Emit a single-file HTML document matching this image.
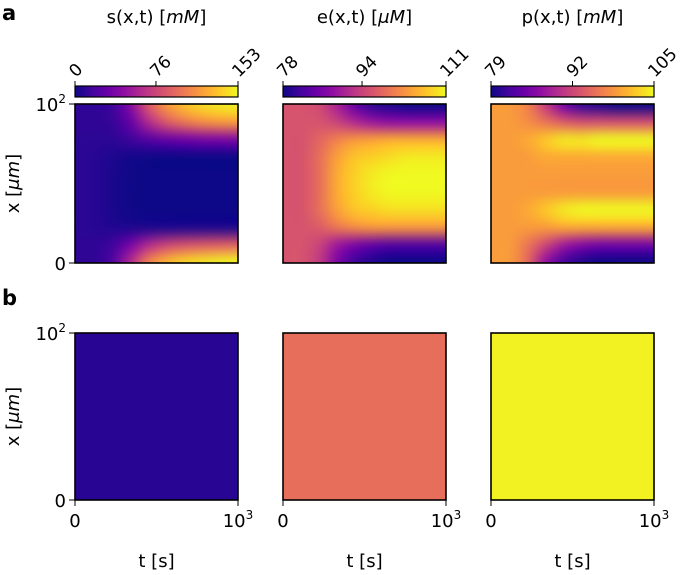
<!DOCTYPE html>
<html><head><meta charset="utf-8">
<style>
html,body{margin:0;padding:0;background:#fff;}
#wrap{position:relative;width:685px;height:575px;overflow:hidden;font-family:"DejaVu Sans","Liberation Sans",sans-serif;}
canvas{position:absolute;}
svg{position:absolute;left:0;top:0;}
</style></head>
<body>
<div id="wrap">
<svg id="svg" width="685" height="575"></svg>
</div>
<script>
// ---- data ----
const panelTitles = ["s(x,t)", "e(x,t)", "p(x,t)"];
const panelUnits = ["mM", "μM", "mM"];
const cbarMin = [0, 78, 79];
const cbarMax = [153, 111, 105];
const cbarTicks = [[0, 76, 153], [78, 94, 111], [79, 92, 105]];
const yTickLabels = ["10²", "0"];
const xTickLabels = ["0", "10³"];
// heatmaps, rows from x=top(100) to x=bottom(0), columns t=0..end
const sGrid = [
 [10,10,14,40,85,115,132,142,148,150],
 [10,10,12,28,60,85,100,110,115,118],
 [9,9,9,14,22,28,32,35,37,38],
 [9,8,5,2,1,0,0,0,0,0],
 [9,8,4,1,0,0,0,0,0,0],
 [9,8,4,1,0,0,0,0,0,0],
 [9,8,4,1,0,0,0,0,0,0],
 [9,8,6,5,5,5,5,5,5,5],
 [10,10,15,35,60,75,82,86,88,90],
 [10,10,20,60,105,128,140,146,150,153]
];
const eGrid = [
 [96,96,95,90,84,80,79,78,78,78],
 [96,96,96,94,91,89,88,88,88,88],
 [96,96,98,101,103,104,105,105,105,105],
 [96,96,99,104,107,108,109,110,110,110],
 [96,96,99,105,108,110,111,111,111,111],
 [96,96,99,105,108,110,111,111,111,111],
 [96,96,99,104,107,108,109,109,109,109],
 [96,96,97,100,102,103,103,103,103,103],
 [96,96,94,89,86,84,83,83,83,83],
 [96,96,93,86,81,79,78,78,78,78]
];
const pGrid = [
 [99,99,97,91,85,81,80,79,79,79],
 [99,99,98,96,94,93,93,93,93,93],
 [99,99,100,102,104,104,105,105,105,105],
 [99,99,99,100,100,100,100,100,100,100],
 [99,99,99,99,99,99,99,99,99,99],
 [99,99,99,99,99,99,99,99,99,99],
 [99,99,100,102,104,105,105,105,105,105],
 [99,99,99,99,100,100,100,100,100,100],
 [99,99,96,92,88,86,85,85,85,85],
 [99,99,95,87,82,80,79,79,79,79]
];
const bottomValues = [8, 98.8, 104.6];

// ---- layout ----
const panelX = [75, 283, 491], panelW = 163;
const topY = 104, topH = 159;
const botY = 333, botH = 167;
const cbY = 86, cbH = 11;
const plasma = ["#0d0887","#41049d","#6a00a8","#8f0da4","#b12a90","#cc4778","#e16462","#f2844b","#fca636","#fcce25","#f0f921"];
function hex(c){return [parseInt(c.slice(1,3),16),parseInt(c.slice(3,5),16),parseInt(c.slice(5,7),16)];}
function cmap(f){f=Math.max(0,Math.min(1,f));const p=f*10,i=Math.min(9,Math.floor(p)),t=p-i;const a=hex(plasma[i]),b=hex(plasma[i+1]);return a.map((v,k)=>Math.round(v+(b[k]-v)*t));}
const NS="http://www.w3.org/2000/svg";
const svg=document.getElementById('svg');
function el(tag,attrs,txt){const e=document.createElementNS(NS,tag);for(const k in attrs)e.setAttribute(k,attrs[k]);if(txt!==undefined)e.textContent=txt;svg.appendChild(e);return e;}
const grids=[sGrid,eGrid,pGrid];
const wrap=document.getElementById('wrap');

const defs=el('defs',{});
const lg=document.createElementNS(NS,'linearGradient');lg.setAttribute('id','plasma');
plasma.forEach((c,i)=>{const s=document.createElementNS(NS,'stop');s.setAttribute('offset',(i*10)+'%');s.setAttribute('stop-color',c);lg.appendChild(s);});
defs.appendChild(lg);

for(let p=0;p<3;p++){
  const x0=panelX[p];
  const vmin=cbarMin[p], vmax=cbarMax[p];
  const sx=v=>x0+(v-vmin)/(vmax-vmin)*panelW;
  const t=el('text',{x:x0+panelW/2,y:23,'text-anchor':'middle','font-size':18,fill:'#000'});
  
  
  t.innerHTML=panelTitles[p]+' [<tspan font-style="italic">'+panelUnits[p]+'</tspan>]';
  const cb=el('rect',{x:x0,y:cbY,width:panelW,height:cbH,fill:'url(#plasma)',stroke:'#000','stroke-width':1.2});
  
  
  cbarTicks[p].forEach(v=>{
    const tx=sx(v);
    const tk=el('line',{x1:tx,x2:tx,y1:cbY,y2:cbY-5,stroke:'#000','stroke-width':1});
    
    
    const lb=el('text',{x:tx+1,y:cbY-8,'font-size':17,transform:`rotate(-45 ${tx+1} ${cbY-8})`},String(v));
    
    
  });
  const g=grids[p], rows=g.length, cols=g[0].length;
  const small=document.createElement('canvas');small.width=cols;small.height=rows;
  const sc=small.getContext('2d');const img=sc.createImageData(cols,rows);
  for(let r=0;r<rows;r++)for(let c=0;c<cols;c++){const col=cmap((g[r][c]-vmin)/(vmax-vmin));const i=(r*cols+c)*4;img.data[i]=col[0];img.data[i+1]=col[1];img.data[i+2]=col[2];img.data[i+3]=255;}
  sc.putImageData(img,0,0);
  const cv=document.createElement('canvas');cv.width=panelW;cv.height=topH;
  cv.style.left=x0+'px';cv.style.top=topY+'px';
  
  
  const ctx=cv.getContext('2d');ctx.imageSmoothingEnabled=true;ctx.imageSmoothingQuality='high';
  ctx.drawImage(small,0,0,cols,rows,-panelW/cols/2,-topH/rows/2,panelW+panelW/cols,topH+topH/rows);
  wrap.insertBefore(cv,svg);
  const bc=cmap((bottomValues[p]-vmin)/(vmax-vmin));
  const br=el('rect',{x:x0,y:botY,width:panelW,height:botH,fill:`rgb(${bc.join(',')})`});
  
  
  [[topY,topH],[botY,botH]].forEach(([y,h])=>{
    const f=el('rect',{x:x0,y:y,width:panelW,height:h,fill:'none',stroke:'#000','stroke-width':1.6});
    
    
  });
  [x0,x0+panelW].forEach((tx,i)=>{
    const tk=el('line',{x1:tx,x2:tx,y1:botY+botH,y2:botY+botH+6,stroke:'#000','stroke-width':1});
    
    
    const lb=el('text',{x:tx,y:527,'text-anchor':'middle','font-size':18},'');
    
    
    lb.innerHTML=i===0?'0':'10<tspan dy="-8" font-size="12">3</tspan>';
  });
  const xl=el('text',{x:x0+panelW/2,y:567,'text-anchor':'middle','font-size':18},'t [s]');
  
  
}
[[topY,topH],[botY,botH]].forEach(([y,h],k)=>{
  [y,y+h].forEach((ty,i)=>{
    const tk=el('line',{x1:69,x2:75,y1:ty,y2:ty,stroke:'#000','stroke-width':1});
    
    
    const lb=el('text',{x:66,y:ty+7,'text-anchor':'end','font-size':18},'');
    
    
    lb.innerHTML=i===0?'10<tspan dy="-8" font-size="12">2</tspan>':'0';
  });
  const cy=y+h/2;
  const yl=el('text',{x:19,y:cy,'text-anchor':'middle','font-size':18,transform:`rotate(-90 19 ${cy})`},'');
  
  
  yl.innerHTML='x [<tspan font-style="italic">μm</tspan>]';
});
const la=el('text',{x:2,y:20,'font-size':21,'font-weight':'bold'},'a');


const lbb=el('text',{x:2,y:305,'font-size':21,'font-weight':'bold'},'b');


</script>
</body></html>
